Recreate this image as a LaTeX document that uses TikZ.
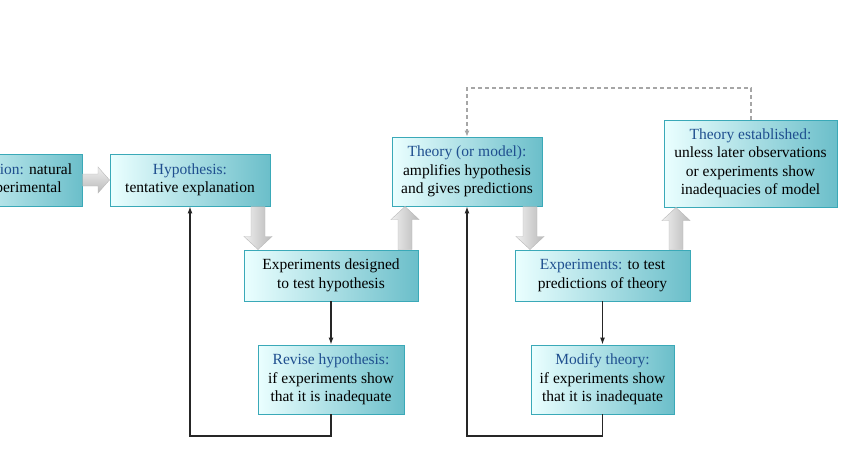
\documentclass[tikz,border=0pt]{standalone}
\usepackage{fontspec}
\setmainfont{Liberation Serif}
\usetikzlibrary{arrows.meta}
\definecolor{ttl}{HTML}{1F4F8F}
\definecolor{bx}{HTML}{3AA9B8}
\begin{document}
\begin{tikzpicture}[x=1pt,y=-1pt,
  box/.style={draw=bx,line width=0.8pt,left color=cyan!8,right color=bx!75,align=center,inner sep=0pt,
     font=\fontsize{15.5}{18.5}\selectfont},
  thin/.style={-{Latex[length=7pt,width=5pt]},line width=1.3pt,black!85},
  fat/.style={draw=gray!55,left color=gray!12,right color=gray!55}]
\useasboundingbox (0,0) rectangle (863,453);
\newcommand{\mybox}[6]{\node[box,minimum width=#3-#1,minimum height=#4-#2] (#5) at ({(#1+#3)/2},{(#2+#4)/2}) {#6};}
\begin{scope}
\clip (0,0) rectangle (863,453);
\mybox{-66}{154}{82}{206}{obs}{\textcolor{ttl}{Observation:} natural\\and experimental}
\end{scope}
\mybox{110}{154}{270}{206}{hyp}{\textcolor{ttl}{Hypothesis:}\\tentative explanation}
\mybox{244}{250}{418}{301}{expd}{Experiments designed\\to test hypothesis}
\mybox{258}{345}{404}{414}{rev}{\textcolor{ttl}{Revise hypothesis:}\\if experiments show\\that it is inadequate}
\mybox{392}{137}{542}{206}{thy}{\textcolor{ttl}{Theory (or model):}\\amplifies hypothesis\\and gives predictions}
\mybox{664}{120}{837}{207}{est}{\textcolor{ttl}{Theory established:}\\unless later observations\\or experiments show\\inadequacies of model}
\mybox{515}{250}{690}{301}{exp}{\textcolor{ttl}{Experiments:} to test\\predictions of theory}
\mybox{531}{345}{674}{414}{mod}{\textcolor{ttl}{Modify theory:}\\if experiments show\\that it is inadequate}
% fat arrows
\newcommand{\fatv}[3]{% x, ystart, yend
  \pgfmathsetmacro{\hd}{#3>#2 ? #3-13 : #3+13}
  \shade[fat] (#1-7,#2) -- (#1+7,#2) -- (#1+7,\hd) -- (#1+14,\hd) -- (#1,#3) -- (#1-14,\hd) -- (#1-7,\hd) -- cycle;}
\fatv{258}{206.5}{249.5}
\fatv{405}{249.5}{206.5}
\fatv{530}{206.5}{249.5}
\fatv{676}{249.5}{207.5}
\shade[fat,top color=gray!12,bottom color=gray!55] (82.5,174) -- (98,174) -- (98,167) -- (109.5,180) -- (98,193) -- (98,186) -- (82.5,186) -- cycle;
% thin connectors
\draw[thin] (expd.south-|rev.north) -- (rev.north);
\draw[thin] (exp.south-|mod.north) -- (mod.north);
\coordinate (c1) at (331,436); \coordinate (c2) at (190,436);
\draw[thin] (rev.south) -- (c1) -- (c2) -- (hyp.south-|c2);
\coordinate (c3) at (602.5,436); \coordinate (c4) at (467,436);
\draw[thin] (mod.south) -- (c3) -- (c4) -- (thy.south-|c4);
\coordinate (d1) at (751,88); \coordinate (d2) at (467,88);
\draw[gray!70,line width=1.1pt,dash pattern=on 4pt off 3pt,-{Latex[length=6pt,width=5pt]}] (est.north-|d1) -- (d1) -- (d2) -- (thy.north-|d2);
\end{tikzpicture}
\end{document}
